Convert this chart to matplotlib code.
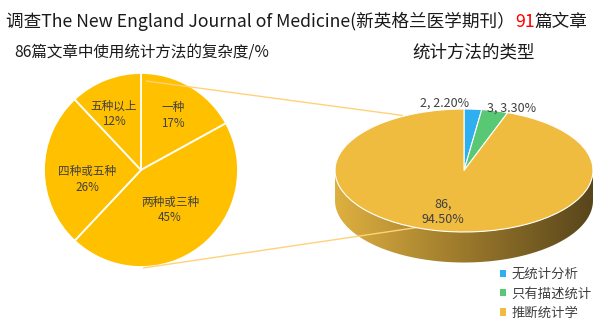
import numpy as np
import matplotlib
matplotlib.use("Agg")
import matplotlib.pyplot as plt
from matplotlib.patches import Polygon, Patch

plt.rcParams['font.family'] = ['Noto Sans CJK SC', 'DejaVu Sans']

# Complexity of statistical methods used in 86 articles (%)
complexity_labels = ["一种", "两种或三种", "四种或五种", "五种以上"]
complexity_pct = [17, 45, 26, 12]

# Types of statistical methods across 91 articles
method_types = ["无统计分析", "只有描述统计", "推断统计学"]
method_counts = [2, 3, 86]
method_pct = [2.20, 3.30, 94.50]

title_main = "调查The New England Journal of Medicine(新英格兰医学期刊）"
title_num = "91"
title_tail = "篇文章"
sub_left = "86篇文章中使用统计方法的复杂度/%"
sub_right = "统计方法的类型"

W, H = 600, 324
TXT = "#404040"

fig = plt.figure(figsize=(W / 100, H / 100), dpi=100)
ax = fig.add_axes([0, 0, 1, 1])

# ---- left pie -------------------------------------------------------------
lc = (141, H - 170)
lr = 97
wedges_l, _ = ax.pie(complexity_pct, colors=["#FFC000"] * len(complexity_pct),
                     startangle=90, counterclock=False, center=lc, radius=lr,
                     wedgeprops=dict(edgecolor="white", linewidth=1.3))
label_dist = [0.65, 0.51, 0.565, 0.645]
label_shift = [0, -2, 10, 4]
for w, name, p, d, s in zip(wedges_l, complexity_labels, complexity_pct,
                            label_dist, label_shift):
    th = np.deg2rad((w.theta1 + w.theta2) / 2 + s)
    ax.text(lc[0] + d * lr * np.cos(th), lc[1] + d * lr * np.sin(th),
            f"{name}\n{p}%", ha="center", va="center", fontsize=8.4,
            color=TXT, linespacing=1.25, zorder=5)

# ---- right 3D pie -----------------------------------------------------------
ec = (464, H - 170.5)   # centre of the top ellipse
ea, eb = 129, 61.5
depth, eb2 = 30, 62

t = np.linspace(0, np.pi, 200)
top_front = np.column_stack([ec[0] - ea * np.cos(t), ec[1] - eb * np.sin(t)])
bot_front = np.column_stack([ec[0] - ea * np.cos(t), ec[1] - depth - eb2 * np.sin(t)])
wall = np.vstack([top_front, bot_front[::-1]])
wall_patch = Polygon(wall, closed=True, facecolor="none", edgecolor="none")
ax.add_patch(wall_patch)

c_left = np.array([222, 176, 64]) / 255
c_mid = np.array([155, 121, 44]) / 255
c_right = np.array([88, 69, 27]) / 255
xs = np.linspace(0, 1, 256)
grad = np.where(xs[:, None] < 0.5,
                c_left + (c_mid - c_left) * (xs[:, None] / 0.5),
                c_mid + (c_right - c_mid) * ((xs[:, None] - 0.5) / 0.5))
img = ax.imshow(grad[None, :, :], extent=(ec[0] - ea, ec[0] + ea,
                                          ec[1] - depth - eb2 - 2, ec[1] + 2),
                aspect="auto", interpolation="bilinear", zorder=1)
img.set_clip_path(wall_patch)

# connector lines between the two charts
ax.plot([146, 403], [H - 81, H - 115.5], color="#FFD27A", lw=1.0, zorder=3,
        solid_capstyle="butt")
ax.plot([143, 417], [H - 268, H - 227.5], color="#FFD27A", lw=1.0, zorder=3,
        solid_capstyle="butt")

ax.set_xlim(0, W)
ax.set_ylim(0, H)
ax.set_aspect("auto")
ax.axis("off")

ax2 = fig.add_axes([(ec[0] - ea) / W, (ec[1] - eb) / H, 2 * ea / W, 2 * eb / H])
type_colors = ["#2FAEF0", "#58C874", "#F0BC40"]
wedges_r, _ = ax2.pie(method_counts, colors=type_colors, startangle=90,
                      counterclock=False, radius=1,
                      wedgeprops=dict(edgecolor="white", linewidth=0.8))
ax2.set_aspect("auto")
ax2.set_xlim(-1, 1)
ax2.set_ylim(-1, 1)
ax2.axis("off")

r_label_pos = [(445, H - 103), (512, H - 108), (443, H - 212)]
for (x, y), n, p in zip(r_label_pos, method_counts, method_pct):
    sep = ",\n" if n == max(method_counts) else ", "
    fig.text(x / W, y / H, f"{n}{sep}{p:.2f}%", ha="center", va="center",
             fontsize=9, color=TXT, linespacing=1.25, zorder=10)

handles = [Patch(facecolor=c, edgecolor="none") for c in type_colors]
leg = fig.legend(handles, method_types, loc="upper left",
                 bbox_to_anchor=(500 / W, (H - 267) / H), frameon=False,
                 fontsize=9.6, handlelength=0.45, handleheight=0.45,
                 handletextpad=0.4, labelspacing=0.4, borderpad=0,
                 borderaxespad=0)
for tx in leg.get_texts():
    tx.set_color(TXT)

# ---- titles ---------------------------------------------------------------
t1 = ax.text(6, H - 21, title_main, fontsize=12.7, va="center", ha="left",
             color="#1a1a1a")
t2 = ax.annotate(title_num, xy=(1, 0), xycoords=t1, va="bottom", ha="left",
                 fontsize=12.7, color="#FF0000")
ax.annotate(title_tail, xy=(1, 0), xycoords=t2, va="bottom", ha="left",
            fontsize=12.7, color="#1a1a1a")
ax.text(14, H - 53, sub_left, fontsize=11.2, va="center", ha="left",
        color="#1a1a1a")
ax.text(474, H - 52, sub_right, fontsize=12.6, va="center", ha="center",
        color="#1a1a1a")

fig.savefig("out.png", dpi=100)
